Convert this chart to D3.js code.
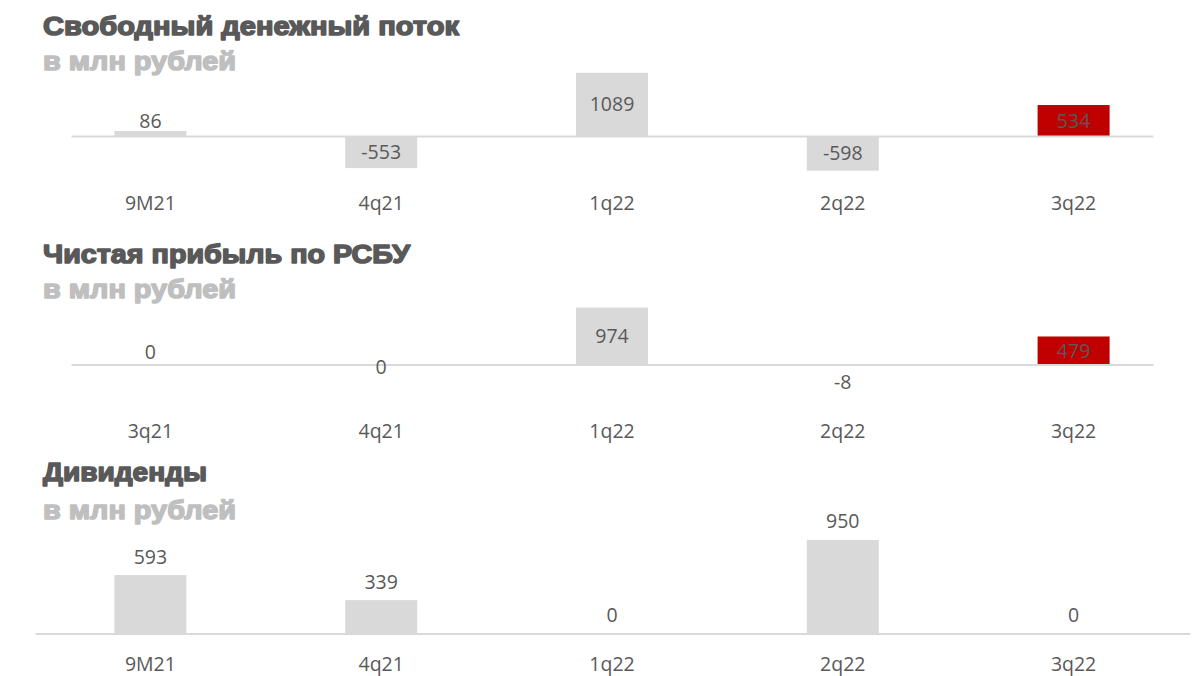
<!DOCTYPE html>
<html>
<head>
<meta charset="utf-8">
<script src="https://cdn.jsdelivr.net/npm/d3@7/dist/d3.min.js"></script>
<style>
  html, body { margin: 0; padding: 0; background: #ffffff; }
  svg { display: block; }
</style>
</head>
<body>
<svg id="chart" width="1200" height="676"></svg>
<script>
// ---------------- DATA ----------------
const subtitle = "в млн рублей";

const titleFCF = "Свободный денежный поток";
const catsFCF = ["9M21", "4q21", "1q22", "2q22", "3q22"];
const valsFCF = [86, -553, 1089, -598, 534];

const titleNP = "Чистая прибыль по РСБУ";
const catsNP = ["3q21", "4q21", "1q22", "2q22", "3q22"];
const valsNP = [0, 0, 974, -8, 479];

const titleDiv = "Дивиденды";
const catsDiv = ["9M21", "4q21", "1q22", "2q22", "3q22"];
const valsDiv = [593, 339, 0, 950, 0];

// ---------------- LAYOUT / STYLE ----------------
const GRAY_BAR = "#d9d9d9";
const RED_BAR = "#c00000";
const TEXT_DARK = "#595959";
const TEXT_LIGHT = "#bfbfbf";

const panels = [
  { title: titleFCF, cats: catsFCF, vals: valsFCF, highlightLast: true,
    titleY: 35, titleW: 416, subY: 70, subW: 193,
    zeroY: 136, pxPer1000: 58, axisX: [71, 1153], catY: 203,
    labelMode: "center", nudge: { 0: -10 } },
  { title: titleNP, cats: catsNP, vals: valsNP, highlightLast: true,
    titleY: 263, titleW: 367, subY: 298, subW: 193,
    zeroY: 364.5, pxPer1000: 58.5, axisX: [71, 1153], catY: 431,
    labelMode: "center", nudge: { 0: -12.5, 1: 2, 3: 17.5 } },
  { title: titleDiv, cats: catsDiv, vals: valsDiv, highlightLast: false,
    titleY: 481, titleW: 164, subY: 519, subW: 193,
    zeroY: 633.5, pxPer1000: 98.5, axisX: [35, 1190], catY: 664,
    labelMode: "outside", nudge: {} }
];

const svg = d3.select("#chart");

panels.forEach(p => {
  const g = svg.append("g");

  const x = d3.scaleBand()
    .domain(p.cats)
    .range([35, 1189])
    .paddingInner(0.688)
    .paddingOuter(0.344);

  const y = d3.scaleLinear()
    .domain([0, 1000])
    .range([p.zeroY, p.zeroY - p.pxPer1000]);

  // Titles
  g.append("text")
    .attr("x", 43).attr("y", p.titleY)
    .attr("textLength", p.titleW).attr("lengthAdjust", "spacingAndGlyphs")
    .style("font-family", "'Liberation Sans', Arial, sans-serif")
    .style("font-weight", "bold").style("font-size", "26px")
    .style("fill", TEXT_DARK).style("stroke", TEXT_DARK).style("stroke-width", "1.5px")
    .style("stroke-linejoin", "round")
    .text(p.title);

  g.append("text")
    .attr("x", 43).attr("y", p.subY)
    .attr("textLength", p.subW).attr("lengthAdjust", "spacingAndGlyphs")
    .style("font-family", "'Liberation Sans', Arial, sans-serif")
    .style("font-weight", "bold").style("font-size", "26px")
    .style("fill", TEXT_LIGHT).style("stroke", TEXT_LIGHT).style("stroke-width", "1.5px")
    .style("stroke-linejoin", "round")
    .text(subtitle);

  const data = p.cats.map((c, i) => ({ c, v: p.vals[i], i }));

  // Bars
  g.selectAll("rect.bar").data(data).enter().append("rect")
    .attr("class", "bar")
    .attr("x", d => x(d.c))
    .attr("width", x.bandwidth())
    .attr("y", d => Math.min(y(d.v), y(0)))
    .attr("height", d => Math.abs(y(d.v) - y(0)))
    .attr("fill", d => (p.highlightLast && d.i === p.cats.length - 1) ? RED_BAR : GRAY_BAR);

  // Axis line (category axis drawn with d3 axis, line only)
  const axisScale = d3.scaleLinear().domain([0, 1]).range(p.axisX);
  const axisG = g.append("g").attr("transform", `translate(0,${y(0)})`)
    .call(d3.axisBottom(axisScale).tickValues([]).tickSizeOuter(0));
  axisG.select(".domain").attr("stroke", "#d9d9d9").attr("stroke-width", 2);

  // Category labels
  g.selectAll("text.cat").data(data).enter().append("text")
    .attr("class", "cat")
    .attr("x", d => x(d.c) + x.bandwidth() / 2)
    .attr("y", p.catY).attr("dy", "0.36em")
    .attr("text-anchor", "middle")
    .style("font-family", "'Open Sans', sans-serif").style("font-size", "19.5px")
    .style("fill", TEXT_DARK)
    .text(d => d.c);

  // Value labels
  g.selectAll("text.val").data(data).enter().append("text")
    .attr("class", "val")
    .attr("x", d => x(d.c) + x.bandwidth() / 2)
    .attr("y", d => {
      if (p.labelMode === "outside") return y(d.v) - 18.5;
      if (d.i in p.nudge) return Math.min(y(d.v), y(0)) + p.nudge[d.i];
      return (y(d.v) + y(0)) / 2;
    })
    .attr("dy", "0.36em")
    .attr("text-anchor", "middle")
    .style("font-family", "'Open Sans', sans-serif").style("font-size", "19.5px")
    .style("fill", TEXT_DARK)
    .text(d => d.v);
});
</script>
</body>
</html>
